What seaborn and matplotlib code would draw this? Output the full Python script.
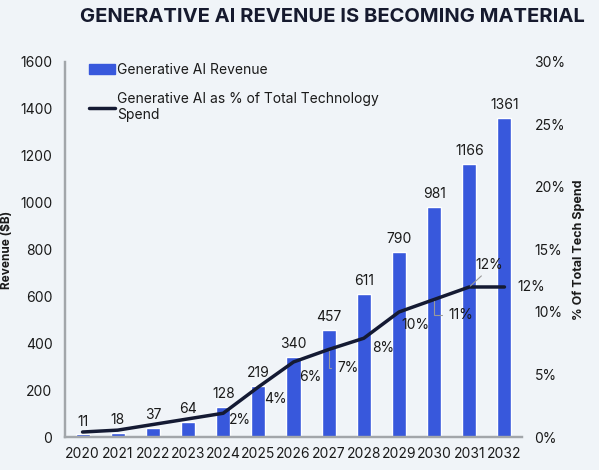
import matplotlib
matplotlib.use("Agg")
import matplotlib.pyplot as plt
import seaborn as sns
import numpy as np
import pandas as pd
from matplotlib.patches import Patch
from matplotlib.lines import Line2D

years = ["2020", "2021", "2022", "2023", "2024", "2025", "2026",
         "2027", "2028", "2029", "2030", "2031", "2032"]
revenue = [11, 18, 37, 64, 128, 219, 340, 457, 611, 790, 981, 1166, 1361]
pct_share = [0.4, 0.55, 1.0, 1.45, 1.9, 4.0, 6.0, 7.0, 7.9, 10.0, 11.0, 12.0, 12.0]
pct_labels = ["", "", "", "", "2%", "4%", "6%", "7%", "8%", "10%", "11%", "12%", "12%"]
left_ticks = [0, 200, 400, 600, 800, 1000, 1200, 1400, 1600]
right_ticks = [0, 5, 10, 15, 20, 25, 30]

BG = "#f0f4f8"
BAR = "#3858dc"
LINE = "#141a33"
TXT = "#1a1a1a"
SPINE = "#a2a6aa"

sns.set_theme(style="white")
plt.rcParams["font.family"] = ["Inter", "DejaVu Sans"]

fig = plt.figure(figsize=(5.99, 4.70), dpi=100, facecolor=BG)
ax = fig.add_axes([0.1085, 0.0702, 0.763, 0.798])
ax.set_facecolor(BG)

df = pd.DataFrame({"year": years, "revenue": revenue})
sns.barplot(data=df, x="year", y="revenue", color=BAR, width=0.4,
            saturation=1, ax=ax)

ax2 = ax.twinx()
sns.lineplot(x=np.arange(len(years)), y=pct_share, color=LINE, linewidth=2.5, ax=ax2)

ax.set_xlim(-0.5, len(years) - 0.5)
ax2.set_xlim(-0.5, len(years) - 0.5)
ax.set_ylim(0, 1600)
ax.set_yticks(left_ticks)
ax.set_yticklabels([str(t) for t in left_ticks], fontsize=10, color=TXT)
ax.set_xticks(range(len(years)))
ax.set_xticklabels(years, fontsize=10, color=TXT)
ax.tick_params(axis="y", length=0, pad=9)
ax.tick_params(axis="x", length=0, pad=7)
ax.set_xlabel("")
ax.set_ylabel("Revenue ($B)", fontsize=8.5, fontweight="bold", color=TXT, labelpad=5)
for s in ["top", "right"]:
    ax.spines[s].set_visible(False)
for s in ["left", "bottom"]:
    ax.spines[s].set_visible(True)
    ax.spines[s].set_color(SPINE)
    ax.spines[s].set_linewidth(1.6)
    ax.spines[s].set_zorder(5)

for i, v in enumerate(revenue):
    ax.text(i, v + 25, str(v), ha="center", va="bottom", fontsize=10, color=TXT)

ax2.set_ylim(0, 30)
ax2.set_yticks(right_ticks)
ax2.set_yticklabels([f"{t}%" for t in right_ticks], fontsize=10, color=TXT)
ax2.tick_params(axis="y", length=0, pad=9)
ax2.set_ylabel("% Of Total Tech Spend", fontsize=9, fontweight="bold", color=TXT, labelpad=5)
for s in ["top", "right"]:
    ax2.spines[s].set_visible(False)
for s in ["left", "bottom"]:
    ax2.spines[s].set_color(SPINE)
    ax2.spines[s].set_linewidth(1.6)

# percent labels (offsets in points)
plain = {4: (4, -5), 5: (4, -9), 6: (4, -11), 8: (6, -7), 9: (1.5, -9.5), 12: (9, 0)}
for i, (dx, dy) in plain.items():
    ax2.annotate(pct_labels[i], (i, pct_share[i]), xytext=(dx, dy), textcoords="offset points",
                 ha="left", va="center", fontsize=10, color=TXT)

elbow = {7: (6, -13), 10: (10, -11)}
for i, (dx, dy) in elbow.items():
    ax2.annotate(pct_labels[i], (i, pct_share[i]), xytext=(dx, dy), textcoords="offset points",
                 ha="left", va="center", fontsize=10, color=TXT,
                 arrowprops=dict(arrowstyle="-", color="#9a9a9a", lw=0.8,
                                 connectionstyle="angle,angleA=0,angleB=90,rad=0",
                                 relpos=(0, 0.5), shrinkA=2, shrinkB=1))

ax2.annotate(pct_labels[11], (11, pct_share[11]), xytext=(14, 11), textcoords="offset points",
             ha="center", va="bottom", fontsize=10, color=TXT,
             arrowprops=dict(arrowstyle="-", color="#9a9a9a", lw=0.8,
                             relpos=(0.4, 0), shrinkA=1, shrinkB=1))

handles = [Patch(facecolor=BAR, edgecolor=BAR),
           Line2D([0], [0], color=LINE, linewidth=2.5)]
labels = ["Generative AI Revenue", "Generative AI as % of Total Technology\nSpend"]
ax.legend(handles, labels, loc="upper left", bbox_to_anchor=(0.025, 1.03),
          frameon=False, fontsize=10, handlelength=1.9, handletextpad=0.15,
          labelspacing=1.05, labelcolor=TXT)

fig.text(0.555, 0.963, "GENERATIVE AI REVENUE IS BECOMING MATERIAL",
         ha="center", va="center", fontsize=14.5, fontweight="bold", color="#161a2e")

fig.savefig("out.png", dpi=100, facecolor=BG)
